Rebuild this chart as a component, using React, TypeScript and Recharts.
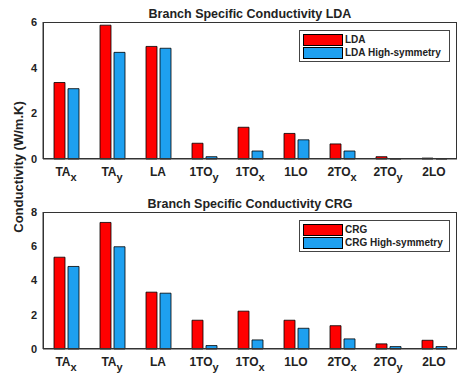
import React from "react";
import { BarChart, Bar, XAxis, YAxis } from "recharts";

const categoryBase = ["TA", "TA", "LA", "1TO", "1TO", "1LO", "2TO", "2TO", "2LO"];
const categorySub = ["x", "y", "", "y", "x", "", "x", "y", ""];

const ldaValues = [3.35, 5.86, 4.93, 0.69, 1.39, 1.12, 0.66, 0.1, 0.04];
const ldaHighSym = [3.08, 4.67, 4.85, 0.1, 0.35, 0.84, 0.35, 0.01, 0.01];
const crgValues = [5.36, 7.39, 3.32, 1.68, 2.21, 1.68, 1.36, 0.3, 0.51];
const crgHighSym = [4.82, 5.97, 3.26, 0.2, 0.53, 1.21, 0.59, 0.14, 0.14];

const ldaTicks = [0, 2, 4, 6];
const crgTicks = [0, 2, 4, 6, 8];

const FONT = "'Liberation Sans', Arial, sans-serif";
const AXIS = "#333";
const RED = "#ff0000";
const BLUE = "#1ea0f0";

const XTick = (props: any) => {
  const { x, y, index } = props;
  const base = categoryBase[index];
  const sub = categorySub[index];
  return (
    <text x={x} y={y + 17} textAnchor="middle" fontFamily={FONT} fontWeight="bold" fontSize={12} fill="#222">
      <tspan>{base}</tspan>
      {sub && (
        <tspan dy={5} fontSize={11}>
          {sub}
        </tspan>
      )}
    </text>
  );
};

function LegendBox({ items }: any) {
  return (
    <div
      style={{
        position: "absolute",
        left: 299,
        top: 30,
        width: 143,
        border: "1px solid #444",
        background: "#fff",
        padding: "2px 3px",
        fontFamily: FONT,
        fontWeight: "bold",
        fontSize: 10,
        color: "#222",
      }}
    >
      {items.map((p: any) => (
        <div key={p.label} style={{ display: "flex", alignItems: "center", height: 13 }}>
          <div style={{ width: 38, height: 10, background: p.color, border: "1px solid #000", marginRight: 2 }} />
          <span>{p.label}</span>
        </div>
      ))}
    </div>
  );
}

function Panel({ title, label, hsLabel, a, b, ticks, top }: any) {
  const data = categoryBase.map((c, i) => ({ name: c + categorySub[i], v1: a[i], v2: b[i] }));
  const maxY = ticks[ticks.length - 1];
  return (
    <div style={{ position: "absolute", left: 0, top, width: 474, height: 190 }}>
      <div
        style={{
          position: "absolute",
          left: 43,
          width: 414,
          top: 8,
          textAlign: "center",
          fontFamily: FONT,
          fontWeight: "bold",
          fontSize: 12.5,
          lineHeight: "12.5px",
          color: "#222",
        }}
      >
        {title}
      </div>
      <BarChart
        width={474}
        height={190}
        data={data}
        margin={{ top: 22, right: 17, bottom: 0, left: 0 }}
        barSize={11}
        barGap={3}
      >
        <XAxis
          dataKey="name"
          height={31}
          axisLine={{ stroke: AXIS }}
          tickLine={false}
          tickSize={0}
          tickMargin={0}
          interval={0}
          tick={<XTick />}
        />
        <YAxis
          domain={[0, maxY]}
          ticks={ticks}
          width={43}
          axisLine={{ stroke: AXIS }}
          tickLine={false}
          tickSize={4}
          tickMargin={2}
          tick={{ fontSize: 11, fontWeight: "bold", fill: "#222", fontFamily: FONT }}
        />
        <Bar
          dataKey="v1"
          name={label}
          fill={RED}
          stroke="#000"
          strokeWidth={0.8}
          isAnimationActive={false}
        />
        <Bar
          dataKey="v2"
          name={hsLabel}
          fill={BLUE}
          stroke="#000"
          strokeWidth={0.8}
          isAnimationActive={false}
        />
      </BarChart>
      {/* axes box (MATLAB "box on") */}
      <div
        style={{
          position: "absolute",
          left: 43,
          top: 22,
          width: 414,
          height: 137,
          boxSizing: "border-box",
          border: `1px solid ${AXIS}`,
          pointerEvents: "none",
        }}
      />
      <LegendBox
        items={[
          { label, color: RED },
          { label: hsLabel, color: BLUE },
        ]}
      />
    </div>
  );
}

export default function App() {
  return (
    <div
      style={{
        position: "absolute",
        left: 0,
        top: 0,
        width: 474,
        height: 375,
        background: "#fff",
        overflow: "hidden",
      }}
    >
      <Panel
        title="Branch Specific Conductivity LDA"
        label="LDA"
        hsLabel="LDA High-symmetry"
        a={ldaValues}
        b={ldaHighSym}
        ticks={ldaTicks}
        top={0}
      />
      <Panel
        title="Branch Specific Conductivity CRG"
        label="CRG"
        hsLabel="CRG High-symmetry"
        a={crgValues}
        b={crgHighSym}
        ticks={crgTicks}
        top={190}
      />
      <div
        style={{
          position: "absolute",
          left: 18,
          top: 167,
          transform: "translate(-50%, -50%) rotate(-90deg)",
          whiteSpace: "nowrap",
          fontFamily: FONT,
          fontWeight: "bold",
          fontSize: 13,
          color: "#222",
        }}
      >
        Conductivity (W/m.K)
      </div>
    </div>
  );
}
